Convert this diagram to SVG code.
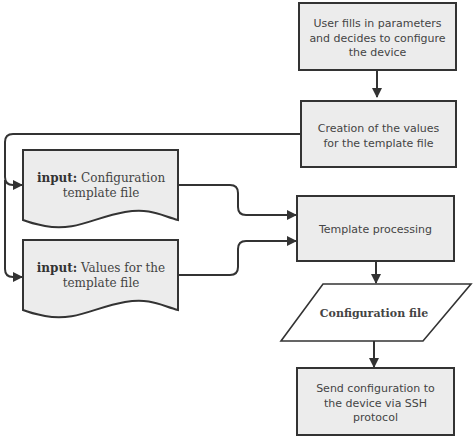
<svg xmlns="http://www.w3.org/2000/svg" width="474" height="440" viewBox="0 0 474 440">
<style>
.box{fill:#ececec;stroke:#333;stroke-width:2}
.para{fill:#fff;stroke:#333;stroke-width:1.6}
.t{font-family:"DejaVu Sans","Liberation Sans",sans-serif;font-size:11px;fill:#444;text-anchor:middle}
.s{font-family:"DejaVu Serif","Liberation Serif",serif;font-size:12px;fill:#444;text-anchor:middle}
.s tspan.b{font-weight:bold;fill:#333}
.c{fill:none;stroke:#333;stroke-width:2}
</style>
<defs>
<marker id="ah" markerWidth="10" markerHeight="10" refX="9" refY="5" orient="auto" markerUnits="userSpaceOnUse">
<path d="M0,0 L10,5 L0,10 Z" fill="#333"/>
</marker>
</defs>
<rect width="474" height="440" fill="#fff"/>
<g id="connectors">
<path class="c" d="M377,70 V97" marker-end="url(#ah)"/>
<path class="c" d="M301,134 H13 Q5,134 5,142 V177 Q5,185 13,185 H22" marker-end="url(#ah)"/>
<path class="c" d="M5,180 V269 Q5,277 13,277 H22" marker-end="url(#ah)"/>
<path class="c" d="M178,185 H230 Q238,185 238,193 V207 Q238,215 246,215 H296" marker-end="url(#ah)"/>
<path class="c" d="M178,275 H230 Q238,275 238,267 V249 Q238,241 246,241 H296" marker-end="url(#ah)"/>
<path class="c" d="M376,261 V283" marker-end="url(#ah)"/>
<path class="c" d="M374,341 V367" marker-end="url(#ah)"/>
</g>
<g id="n1">
<rect class="box" x="299" y="3" width="157" height="67"/>
<text class="t" x="377.5" y="27">User fills in parameters</text>
<text class="t" x="377.5" y="41.5">and decides to configure</text>
<text class="t" x="377.5" y="56">the device</text>
</g>
<g id="n2">
<rect class="box" x="301" y="101" width="155" height="66"/>
<text class="t" x="378.5" y="132">Creation of the values</text>
<text class="t" x="378.5" y="147">for the template file</text>
</g>
<g id="n3">
<path class="box" d="M23,150 H178 V220 C160,215 150,208 125,212 C95,217 75,232 45,226 C35,224 28,222 23,220 Z"/>
<text class="s" x="101" y="182"><tspan class="b">input:</tspan> Configuration</text>
<text class="s" x="101" y="197">template file</text>
</g>
<g id="n4">
<path class="box" d="M23,240 H178 V310 C160,305 150,298 125,302 C95,307 75,322 45,316 C35,314 28,312 23,310 Z"/>
<text class="s" x="101" y="272"><tspan class="b">input:</tspan> Values for the</text>
<text class="s" x="101" y="287">template file</text>
</g>
<g id="n5">
<rect class="box" x="297" y="196" width="157" height="65"/>
<text class="t" x="375.5" y="233">Template processing</text>
</g>
<g id="n6">
<path class="para" d="M323,284 H471 L423,341 H281 Z"/>
<text class="s" x="374" y="317" style="font-weight:bold;font-size:11px">Configuration file</text>
</g>
<g id="n7">
<rect class="box" x="297" y="368" width="157" height="67"/>
<text class="t" x="375.5" y="392">Send configuration to</text>
<text class="t" x="375.5" y="406.5">the device via SSH</text>
<text class="t" x="375.5" y="421">protocol</text>
</g>
</svg>
